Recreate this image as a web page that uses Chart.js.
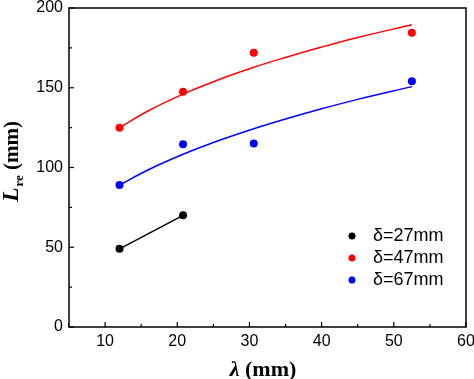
<!DOCTYPE html>
<html>
<head>
<meta charset="utf-8">
<script src="https://cdn.jsdelivr.net/npm/chart.js@4.4.1/dist/chart.umd.min.js"></script>
<style>
  html, body { margin: 0; padding: 0; background: #fff; }
  #wrap { width: 474px; height: 379px; }
</style>
</head>
<body>
<div id="wrap"><canvas id="myChart" width="474" height="379"></canvas></div>
<script>
// measured points
var lambda = [12, 20.8, 30.6, 52.5];
var d27 = [49, 70];
var d47 = [125, 147.5, 172, 184.5];
var d67 = [89, 114.5, 115, 154];

// fitted curves
var fitX = [12, 16, 20.8, 25, 30.6, 35, 40, 45, 52.5];
var fit47 = [125, 135.6, 146, 153.8, 162.8, 169, 175.5, 181.5, 189.5];
var fit67 = [89, 98.6, 108.3, 115.7, 124.3, 130.4, 136.8, 142.7, 150.7];

var seriesLabels = ["δ=27mm", "δ=47mm", "δ=67mm"];
var seriesColors = ["#000000", "#ff0000", "#0000ff"];

var xTicks = [10, 20, 30, 40, 50, 60];
var xMinor = [5, 15, 25, 35, 45, 55];
var yTicks = [0, 50, 100, 150, 200];
var yMinor = [25, 75, 125, 175];

function pts(xs, ys) {
  return ys.map(function (y, i) { return { x: xs[i], y: y }; });
}

// frame, inward ticks, axis titles and legend
var decor = {
  id: "decor",
  afterDraw: function (chart) {
    var c = chart.ctx, a = chart.chartArea;
    var xs = chart.scales.x, ys = chart.scales.y;
    c.save();
    c.strokeStyle = "#000";
    c.lineWidth = 1.2;
    function line(x1, y1, x2, y2) {
      c.beginPath(); c.moveTo(x1, y1); c.lineTo(x2, y2); c.stroke();
    }
    xTicks.forEach(function (v) { var p = xs.getPixelForValue(v); line(p, a.bottom, p, a.bottom - 5); });
    xMinor.forEach(function (v) { var p = xs.getPixelForValue(v); line(p, a.bottom, p, a.bottom - 3); });
    yTicks.forEach(function (v) { var p = ys.getPixelForValue(v); line(a.left, p, a.left + 5, p); });
    yMinor.forEach(function (v) { var p = ys.getPixelForValue(v); line(a.left, p, a.left + 3, p); });
    c.lineWidth = 1.5;
    c.strokeRect(a.left, a.top, a.right - a.left, a.bottom - a.top);

    c.fillStyle = "#000";
    c.textBaseline = "alphabetic";
    // x title
    var f1 = "italic bold 22px 'Liberation Serif'";
    var f2 = "bold 22px 'Liberation Serif'";
    c.font = f1; var w1 = c.measureText("λ").width;
    c.font = f2; var w2 = c.measureText(" (mm)").width;
    var sx = 263 - (w1 + w2) / 2;
    c.font = f1; c.fillText("λ", sx, 376);
    c.font = f2; c.fillText(" (mm)", sx + w1, 376);

    // y title (rotated)
    c.translate(18, 162);
    c.rotate(-Math.PI / 2);
    var fL = "italic bold 24px 'Liberation Serif'";
    var fS = "bold 13px 'Liberation Serif'";
    var fM = "bold 21px 'Liberation Serif'";
    c.font = fL; var wL = c.measureText("L").width;
    c.font = fS; var wS = c.measureText("re").width;
    c.font = fM; var wM = c.measureText(" (mm)").width;
    var tx = -(wL + wS + wM) / 2;
    c.font = fL; c.fillText("L", tx, 0);
    c.font = fS; c.fillText("re", tx + wL + 1, 5);
    c.font = fM; c.fillText(" (mm)", tx + wL + wS + 1, 0);
    c.setTransform(1, 0, 0, 1, 0, 0);

    // legend
    c.font = "18px 'Liberation Sans'";
    c.textBaseline = "middle";
    seriesLabels.forEach(function (lab, i) {
      var y = 236 + i * 22;
      c.fillStyle = seriesColors[i];
      c.beginPath(); c.arc(352, y, 3.5, 0, Math.PI * 2); c.fill();
      c.fillStyle = "#000";
      c.fillText(lab, 373, y);
    });
    c.restore();
  }
};

var chart = new Chart(document.getElementById("myChart").getContext("2d"), {
  type: "scatter",
  data: {
    datasets: [
      { label: seriesLabels[0], data: pts(lambda, d27), showLine: true, borderColor: seriesColors[0],
        backgroundColor: seriesColors[0], borderWidth: 1.5, pointRadius: 4, pointBorderWidth: 0 },
      { label: seriesLabels[1], data: pts(lambda, d47), backgroundColor: seriesColors[1],
        borderColor: seriesColors[1], pointRadius: 4, pointBorderWidth: 0 },
      { label: seriesLabels[2], data: pts(lambda, d67), backgroundColor: seriesColors[2],
        borderColor: seriesColors[2], pointRadius: 4, pointBorderWidth: 0 },
      { label: "fit47", data: pts(fitX, fit47), showLine: true, borderColor: seriesColors[1],
        borderWidth: 1.5, pointRadius: 0, tension: 0.4 },
      { label: "fit67", data: pts(fitX, fit67), showLine: true, borderColor: seriesColors[2],
        borderWidth: 1.5, pointRadius: 0, tension: 0.4 }
    ]
  },
  options: {
    responsive: false,
    animation: false,
    layout: { padding: 0 },
    plugins: { legend: { display: false }, tooltip: { enabled: false } },
    scales: {
      x: {
        type: "linear", min: 5, max: 60,
        grid: { display: false },
        border: { display: false },
        ticks: { color: "#000", font: { family: "'Liberation Sans'", size: 16 }, padding: -3, maxRotation: 0 },
        afterBuildTicks: function (s) { s.ticks = xTicks.map(function (v) { return { value: v }; }); },
        afterFit: function (s) { s.height = 52; s.paddingRight = 8; s.paddingLeft = 0; }
      },
      y: {
        type: "linear", min: 0, max: 200,
        grid: { display: false },
        border: { display: false },
        ticks: { color: "#000", font: { family: "'Liberation Sans'", size: 16 }, padding: -2 },
        afterBuildTicks: function (s) { s.ticks = yTicks.map(function (v) { return { value: v }; }); },
        afterFit: function (s) { s.width = 69; s.paddingTop = 8; s.paddingBottom = 0; }
      }
    }
  },
  plugins: [decor]
});
</script>
</body>
</html>
